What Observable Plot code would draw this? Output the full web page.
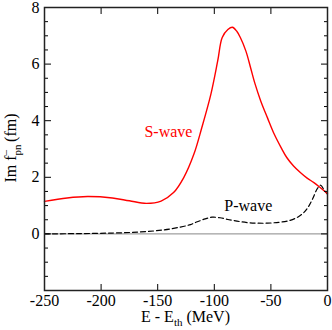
<!DOCTYPE html>
<html>
<head>
<meta charset="utf-8">
<script src="https://cdn.jsdelivr.net/npm/d3@7"></script>
<script src="https://cdn.jsdelivr.net/npm/@observablehq/plot@0.6"></script>
<style>
  html, body { margin: 0; padding: 0; background: #fff; }
  #chart { width: 332px; height: 330px; }
  #chart svg text, #chart svg tspan { font-family: "Liberation Serif", "Times New Roman", serif !important; }
</style>
</head>
<body>
<div id="chart"></div>
<script>
// S-wave (red, solid)
const sX = [-250,-230,-212,-190,-175,-160,-147,-136,-127,-118,-111,-103,-97,-93,-88,-84,-80,-77,-72,-68,-64,-59,-53,-47,-41,-36,-30,-24,-18,-12,-6,0];
const sY = [1.15,1.27,1.32,1.27,1.17,1.08,1.16,1.46,1.99,2.82,3.76,4.94,6.11,6.94,7.22,7.3,7.15,6.94,6.45,5.88,5.3,4.70,4.1,3.52,3.05,2.70,2.4,2.17,1.97,1.81,1.62,1.42];
// P-wave (black, dashed)
const pX = [-250,-220,-190,-165,-145,-130,-121,-115,-108,-102,-95,-88,-80,-71,-62,-53,-43,-33,-26,-21,-17,-13,-9,-6,-3,0];
const pY = [0.0,0.01,0.03,0.07,0.14,0.24,0.33,0.43,0.53,0.59,0.57,0.51,0.45,0.40,0.38,0.38,0.41,0.48,0.6,0.75,0.95,1.25,1.6,1.72,1.55,1.40];

const xTicks = [-250,-200,-150,-100,-50,0];
const xTickLabels = ["-250","-200","-150","-100","-50","0"];
const yTicks = [0,2,4,6,8];
const yTickLabels = ["0","2","4","6","8"];
const yMinor = [-1.5,-1,-0.5,0.5,1,1.5,2.5,3,3.5,4.5,5,5.5,6.5,7,7.5];
const yMajor = [-2,0,2,4,6,8];

const curveLabels = [
  {x: -140.5, y: 3.6, text: "S-wave", color: "red"},
  {x: -70, y: 0.99, text: "P-wave", color: "black"}
];

const sData = sX.map((x, i) => ({x, y: sY[i]}));
const pData = pX.map((x, i) => ({x, y: pY[i]}));
const blank = () => "";

const chart = Plot.plot({
  width: 332,
  height: 330,
  marginLeft: 44,
  marginRight: 5,
  marginTop: 7,
  marginBottom: 40,
  x: {domain: [-250, 0]},
  y: {domain: [-2, 8]},
  style: {fontSize: "16px", background: "white", color: "black"},
  marks: [
    Plot.ruleY([0], {stroke: "#888", strokeWidth: 1}),
    Plot.line(pData, {x: "x", y: "y", stroke: "black", strokeWidth: 1.2, strokeDasharray: "5,3", curve: "catmull-rom"}),
    Plot.line(sData, {x: "x", y: "y", stroke: "red", strokeWidth: 1.4, curve: "catmull-rom"}),
    Plot.text(curveLabels, {x: "x", y: "y", text: "text", fill: "color", fontSize: 16}),
    // tick labels
    Plot.axisX(xTicks, {anchor: "bottom", tickSize: 0, tickPadding: 4, label: null, tickFormat: d => xTickLabels[xTicks.indexOf(d)], fontSize: 16}),
    Plot.axisY(yTicks, {anchor: "left", tickSize: 0, tickPadding: 5, label: null, tickFormat: d => yTickLabels[yTicks.indexOf(d)], fontSize: 16}),
    // inward ticks
    Plot.axisX(xTicks, {anchor: "bottom", tickSize: 6, dy: -6, label: null, tickFormat: blank}),
    Plot.axisX(xTicks, {anchor: "top", tickSize: 6, dy: 6, label: null, tickFormat: blank}),
    Plot.axisY(yMajor, {anchor: "left", tickSize: 7, dx: 7, label: null, tickFormat: blank}),
    Plot.axisY(yMinor, {anchor: "left", tickSize: 4, dx: 4, label: null, tickFormat: blank}),
    Plot.axisY(yMajor, {anchor: "right", tickSize: 7, dx: -7, label: null, tickFormat: blank}),
    Plot.axisY(yMinor, {anchor: "right", tickSize: 4, dx: -4, label: null, tickFormat: blank}),
    Plot.frame({stroke: "#222", strokeWidth: 1.5})
  ]
});

const svg = d3.select(chart);
// x-axis title
const xt = svg.append("text")
  .attr("x", 185.5).attr("y", 322)
  .attr("text-anchor", "middle")
  .attr("font-size", 16)
  .attr("fill", "black");
xt.append("tspan").text("E - E");
xt.append("tspan").attr("font-size", 11).attr("dy", 4).text("th");
xt.append("tspan").attr("dy", -4).text(" (MeV)");

// y-axis title
const yt = svg.append("text")
  .attr("transform", "translate(16,148) rotate(-90)")
  .attr("text-anchor", "middle")
  .attr("font-size", 16)
  .attr("fill", "black");
yt.append("tspan").text("Im f");
yt.append("tspan").attr("font-size", 11).attr("dy", 5).text("pn");
yt.append("tspan").attr("font-size", 11).attr("dx", -11).attr("dy", -12).text("\u2013");
yt.append("tspan").attr("dy", 7).attr("dx", 4).text(" (fm)");

// strip Plot's own stylesheet class so the serif face applies
chart.removeAttribute("class");
svg.selectAll("style").remove();
svg.style("overflow", "visible").style("background", "white");
svg.selectAll("text").attr("font-family", "Liberation Serif");

document.getElementById("chart").appendChild(chart);
</script>
</body>
</html>
